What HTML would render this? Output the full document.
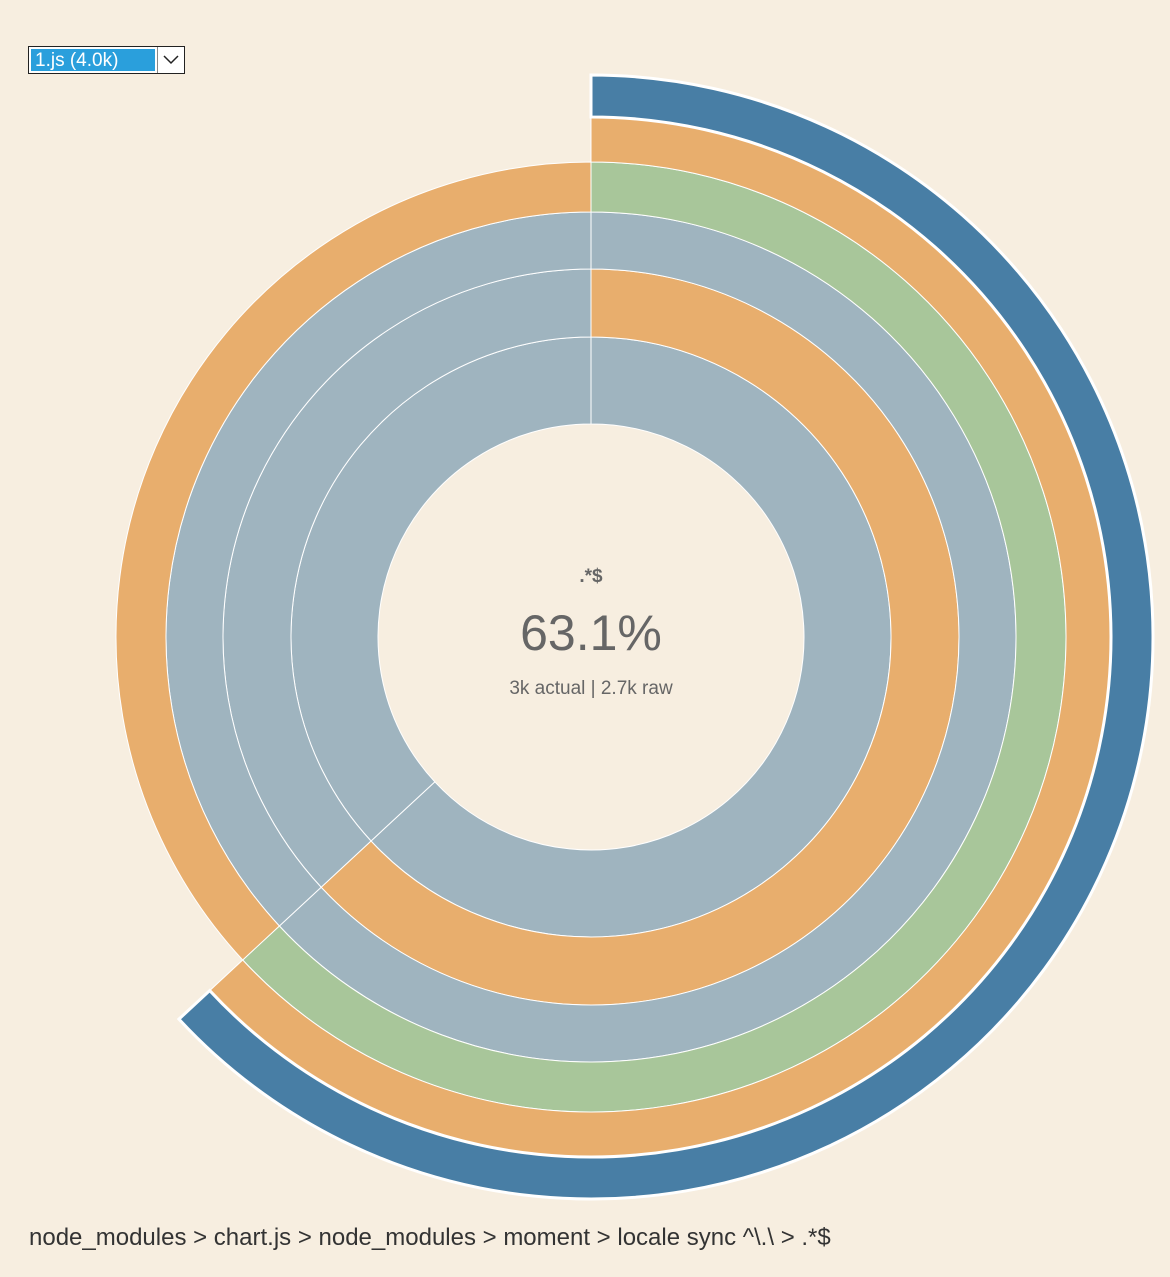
<!DOCTYPE html>
<html><head><meta charset="utf-8">
<style>
body{margin:0;background:#f7eee0;width:1170px;height:1277px;overflow:hidden;font-family:"Liberation Sans",sans-serif;position:relative}
#sel{position:absolute;left:28px;top:46px;width:157px;height:28px;box-sizing:border-box;border:1px solid #222;background:#fff;display:flex}
#sel .v{background:#2a9fdc;color:#fff;font-size:19px;line-height:24px;margin:2px;padding-left:4px;flex:1}
#sel .a{width:26px;border-left:1px solid #888;display:flex;align-items:center;justify-content:center}
#crumb{position:absolute;left:29px;top:1224px;font-size:24px;color:#333}
</style></head><body>
<div id="sel"><div class="v">1.js (4.0k)</div><div class="a"><svg width="16" height="10"><path d="M1 1 L8 8 L15 1" fill="none" stroke="#222" stroke-width="1.5"/></svg></div></div>
<svg id="chart" width="1170" height="1277" style="position:absolute;left:0;top:0">
<g id="arcs"></g>
<text x="591" y="582" text-anchor="middle" font-size="19" font-weight="bold" fill="#666">.*$</text>
<text x="591" y="650" text-anchor="middle" font-size="50" fill="#666">63.1%</text>
<text x="591" y="694" text-anchor="middle" font-size="19" fill="#666">3k actual | 2.7k raw</text>
</svg>
<div id="crumb">node_modules &gt; chart.js &gt; node_modules &gt; moment &gt; locale sync ^\.\ &gt; .*$</div>
<script>
// segment data: depth, start share, end share (percent of total), category
const segDepth = [1,1,2,2,3,3,4,4,5,6];
const segStart = [0,63.1,0,63.1,0,63.1,0,63.1,0,0];
const segEnd   = [63.1,100,63.1,100,63.1,100,63.1,100,63.1,63.1];
const segCat   = ["dir","dir","js","dir","dir","dir","json","js","js","sel"];
const radii = [213,300,368,425,475,520,562];
const colors = {dir:"#9fb4bf",js:"#e8ae6d",json:"#a8c69a",sel:"#487ea5"};
const cx=591, cy=637;
function ang(p){return p/100*2*Math.PI;}
function pt(r,a){return [cx+r*Math.sin(a), cy-r*Math.cos(a)];}
const g=document.getElementById('arcs');
for(let i=0;i<segDepth.length;i++){
  const r0=radii[segDepth[i]-1], r1=radii[segDepth[i]];
  const a0=ang(segStart[i]), a1=ang(segEnd[i]);
  const lg=(a1-a0)>Math.PI?1:0;
  const p1=pt(r1,a0),p2=pt(r1,a1),p3=pt(r0,a1),p4=pt(r0,a0);
  const d=`M${p1} A${r1},${r1} 0 ${lg} 1 ${p2} L${p3} A${r0},${r0} 0 ${lg} 0 ${p4} Z`;
  const el=document.createElementNS('http://www.w3.org/2000/svg','path');
  el.setAttribute('d',d);
  el.setAttribute('fill',colors[segCat[i]]);
  el.setAttribute('stroke','#fff');
  el.setAttribute('stroke-width',segCat[i]==='sel'?3:1);
  
  
  g.appendChild(el);
}
</script>
</body></html>
